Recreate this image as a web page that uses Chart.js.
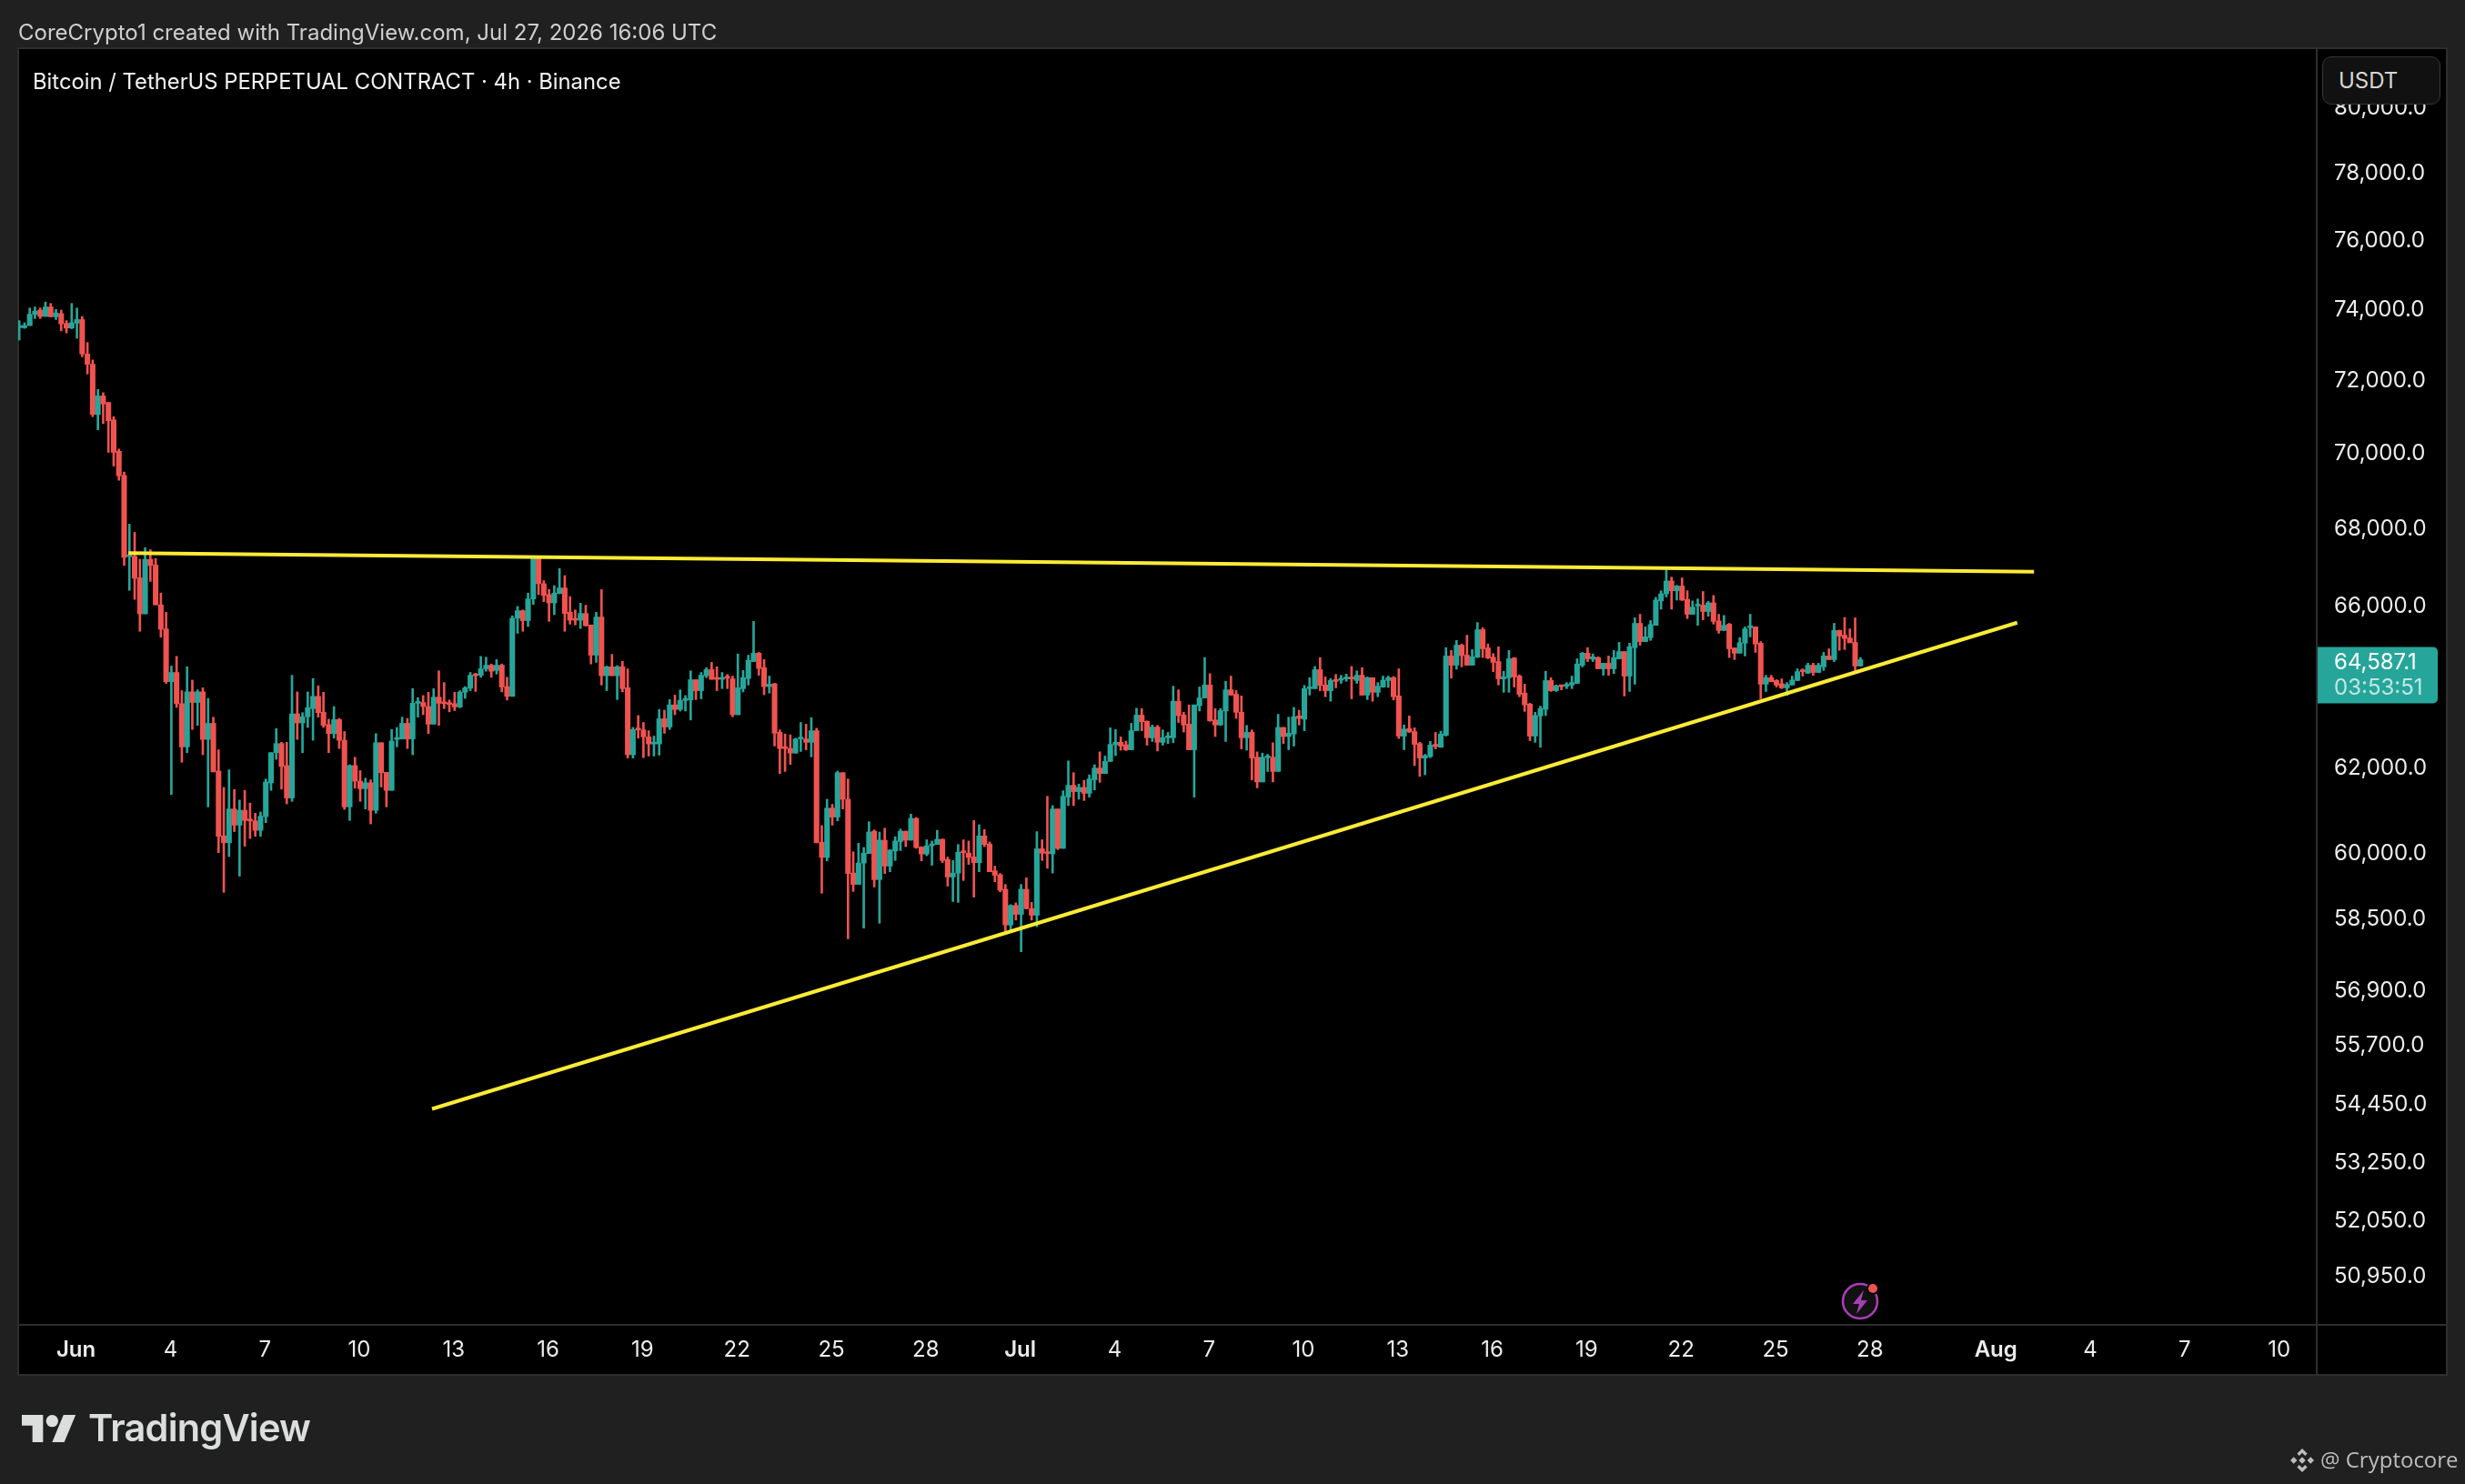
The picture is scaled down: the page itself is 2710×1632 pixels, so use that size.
<!DOCTYPE html>
<html>
<head>
<meta charset="utf-8">
<title>BTCUSDT 4h</title>
<script src="https://cdn.jsdelivr.net/npm/chart.js@4"></script>
<style>
html,body{margin:0;padding:0;background:#202020;width:2710px;height:1632px;overflow:hidden;font-family:Inter,"Noto Sans",sans-serif}
#wrap{position:relative;width:2710px;height:1632px}
canvas{position:absolute;left:0;top:0}
.txt{position:absolute;white-space:nowrap}
#credit{left:20px;top:21px;font-size:24px;line-height:30px;color:#cfcfcf}
#title{left:36px;top:75px;font-size:23.8px;line-height:30px;color:#f2f2f2}
#usdt{position:absolute;left:2553px;top:62px;width:128px;height:51px;background:#111;border:1px solid #363636;border-radius:10px;color:#d6d6d6;font-size:24px;line-height:51px;text-indent:17px}
#tvname{left:97px;top:1542px;font-size:41.5px;line-height:56px;font-weight:600;color:#dcdedd;letter-spacing:-.8px}
#handle{left:2551px;top:1589px;font-family:"Open Sans",sans-serif;font-size:24px;line-height:32px;color:#bdbdbd}
svg{position:absolute;overflow:visible}
</style>
</head>
<body>
<div id="wrap">
<canvas id="c" width="2710" height="1632"></canvas>
<div class="txt" id="credit">CoreCrypto1 created with TradingView.com, Jul 27, 2026 16:06 UTC</div>
<div class="txt" id="title">Bitcoin / TetherUS PERPETUAL CONTRACT · 4h · Binance</div>
<div id="usdt">USDT</div>
<svg style="left:24px;top:1549px" width="60" height="44" viewBox="0 0 36 26"><path fill="#dcdedd" d="M14 22H7V11H0V4h14v18zM28 22h-8l7.5-18h8L28 22z"/><circle fill="#dcdedd" cx="20" cy="8" r="4"/></svg>
<div class="txt" id="tvname">TradingView</div>
<svg style="left:2517px;top:1593px" width="28" height="26" viewBox="0 0 28 28"><g fill="#bdbdbd"><path d="M14 0l6 6-2.5 2.5L14 5l-3.5 3.5L8 6z"/><path d="M14 28l6-6-2.5-2.5L14 23l-3.5-3.5L8 22z"/><path d="M14 10l4 4-4 4-4-4z"/><path d="M4 10l4 4-4 4-4-4z"/><path d="M24 10l4 4-4 4-4-4z"/></g></svg>
<div class="txt" id="handle">@ Cryptocore</div>
<svg style="left:2024px;top:1410px" width="44" height="44" viewBox="0 0 44 44"><circle cx="21" cy="21" r="19" fill="#111" stroke="#a63fb5" stroke-width="2.6"/><path fill="#a63fb5" d="M25 9L13 24h7l-3 11 12-15h-7z"/><circle cx="35" cy="7" r="7" fill="#000"/><circle cx="35" cy="7" r="5" fill="#ef5350"/></svg>
</div>
<script>
const opens=[
73420,73420,73480,73800,73920,73740,74010,73730,73820,73540,
73410,73550,73650,72680,72390,71000,71510,71330,70850,70000,
69350,67210,67220,66660,65740,67140,66990,65970,65360,64040,
64270,63500,62450,63790,63530,63790,62630,63020,61870,60340,
60180,60970,60590,60940,60720,60690,60470,60790,61590,62310,
62530,62000,61230,63250,63030,63180,63380,63680,63290,62990,
62770,63110,62610,61020,62000,61630,61450,61590,60940,62550,
61840,61410,62630,62640,63020,62640,63510,63530,63430,63000,
63660,63530,63520,63500,63420,63780,63880,64220,64200,64360,
64450,64320,64450,63920,63680,65630,65820,65570,66120,67180,
66510,66230,66020,66260,66400,65780,65600,65580,65750,65460,
64700,65660,64190,64410,64190,64410,63890,62260,62880,62860,
62690,62520,62520,63130,62930,63470,63360,63580,63590,64090,
63820,64190,64340,64120,64100,64160,64110,63230,63870,64120,
64540,64750,64390,63920,63990,62800,62420,62410,62300,62640,
62640,62560,62840,60190,59840,60990,60780,61830,61200,59480,
59220,59710,59930,60450,59330,60240,59640,59990,60210,60450,
60240,60750,60080,59920,60110,60140,60260,59790,59390,59480,
59980,59940,59850,59720,60340,60150,59530,59440,59110,58300,
58740,58540,59110,58670,58520,60040,59950,59920,60970,60050,
61250,61530,61380,61480,61340,61660,61940,61810,62100,62500,
62560,62500,62380,62840,63220,63070,62670,62930,62560,62670,
62670,63560,63220,63000,62380,63450,63640,63960,63100,62980,
63320,63840,63730,63290,62670,62800,62200,61610,62190,62200,
61860,62920,62700,62760,63200,63120,63870,63870,64340,63960,
63820,64080,64080,64110,64130,64070,64200,63710,64140,63780,
63910,64070,64140,63690,62710,62890,62820,62530,62180,62220,
62510,62440,62730,64680,64450,64950,64700,64450,64650,65340,
64880,64650,64540,64110,64140,64630,64180,63760,63490,62710,
63200,63360,64070,63820,63940,63930,63960,64000,64450,64750,
64600,64640,64360,64500,64360,64610,64790,64180,64890,65500,
65040,65140,65450,66070,66250,66580,66330,66450,66110,65730,
65940,65960,65800,66020,65560,65320,65480,64880,64750,65000,
65390,65410,65000,63980,64140,64070,63990,63890,63960,64070,
64330,64250,64450,64270,64410,64680,64590,65320,65200,65130,
65020,64430];
const highs=[
73620,73560,73980,74010,73980,74150,74110,73940,73920,73620,
74110,73980,73740,73000,72510,71690,71600,71330,70940,70060,
69440,68060,67840,67140,67440,67390,67160,66270,65780,64430,
64670,63820,64410,64080,63840,63890,63630,63170,62380,61480,
61900,61430,61180,61410,61110,60870,60900,61680,62310,62890,
62560,62560,64200,63790,63280,63790,64120,63940,63780,63120,
63430,63140,62820,62020,62200,61880,61700,61660,62770,62550,
61840,62870,62920,63170,63140,63870,63650,63700,63780,63870,
64310,64020,63590,63780,63820,63920,64270,64250,64670,64650,
64480,64590,64480,64150,65690,65930,65840,66270,67220,67200,
66590,66360,66460,66900,66720,66180,65840,66010,65960,65460,
65780,66360,64430,64720,64440,64550,64360,62920,63210,63040,
62840,62710,63360,63340,63600,63710,63840,63700,64310,64090,
64270,64390,64520,64410,64270,64220,64180,64730,64320,64700,
65550,64770,64590,64180,64000,62860,62760,62740,62660,63040,
63000,63160,62900,60580,61200,61080,61870,61830,61680,59970,
60170,60070,60670,60480,60430,60520,60020,60320,60500,60450,
60850,60770,60090,60250,60220,60470,60270,59850,59770,60140,
60250,60220,60700,60600,60490,60200,59640,59470,59220,58760,
58800,59220,59370,58810,60440,60250,61270,61050,60970,61400,
62110,61830,61560,61650,61780,62020,62330,62230,62910,62870,
62690,62590,63020,63390,63380,63080,62980,62970,62860,62800,
63930,63840,63290,63470,63470,63910,64640,64240,63380,63380,
64050,64180,63820,63690,62970,62860,62330,62300,62270,62550,
63240,62920,63170,63410,63340,63950,64140,64420,64640,64160,
64120,64220,64200,64230,64420,64310,64390,64160,64140,64020,
64180,64180,64170,64360,62980,63200,62910,62560,62270,62580,
62800,62830,64890,64820,65070,64980,65200,64840,65520,65390,
64980,64740,64910,64300,64820,64640,64210,63980,63510,63290,
63440,64300,64140,63960,63960,64020,64180,64610,64770,64890,
64730,64660,64500,64680,64820,65020,64790,65000,65640,65730,
65410,65570,66160,66330,66860,66680,66470,66660,66330,66070,
66120,66310,66060,66210,65730,65700,65500,64880,65140,65410,
65730,65410,65040,64200,64200,64090,64110,64020,64180,64360,
64360,64500,64500,64500,64770,64860,65500,65330,65650,65360,
65640,64640];
const lows=[
73070,73400,73480,73680,73680,73740,73730,73650,73330,73270,
73390,73120,72600,72120,70940,70580,70750,69970,69600,69220,
66980,66340,66110,65300,65740,66570,65970,65150,64000,61310,
63410,62080,62310,62870,62970,62260,61020,61850,59950,59040,
59860,60440,59410,60100,60280,60330,60330,60650,61410,62150,
61440,61090,61150,62630,62310,62920,62610,63170,62920,62310,
62660,62410,60960,60700,61460,61150,60970,60620,60870,61490,
61020,61410,62450,62640,62410,62260,63170,63230,62770,63000,
62970,63380,63300,63330,63400,63630,63820,63800,64150,64300,
64150,64230,63790,63590,63680,65250,65300,65420,65980,66230,
66050,65550,65720,66250,65300,65480,65460,65370,65430,64480,
64520,63960,63820,64190,63600,63790,62180,62180,62660,62190,
62230,62230,62250,62780,62870,63230,63320,63320,63100,63600,
63620,64140,64100,63820,63870,63870,63180,63230,63790,63960,
64540,64200,63720,63760,62470,61810,61860,62030,62300,62340,
62380,62210,60180,59020,59760,60590,60690,60970,57990,59060,
59220,58230,59930,59160,58340,59470,59510,59770,60000,60090,
60240,60050,59760,59880,59660,60140,59720,59180,58830,58810,
59310,59680,58930,59510,60090,59510,59280,59050,58120,58170,
58410,57700,58660,58410,58260,59770,59590,59480,60020,60050,
61050,61050,61200,61170,61250,61420,61600,61810,62100,62240,
62370,62360,62380,62840,62840,62490,62580,62350,62490,62530,
62550,63040,62810,62380,61250,63320,63640,63070,62700,62970,
62580,63710,63140,62400,62370,61660,61470,61610,61860,61610,
61860,62530,62380,62470,62980,62840,63710,63870,63820,63670,
63560,63890,64000,64050,63620,64000,63710,63600,63560,63670,
63900,63900,63590,62650,62380,62800,62000,61740,61780,62190,
62400,62440,62710,64130,64350,64410,64450,64450,64640,64640,
64610,64290,63960,63780,63780,63910,63670,63310,62600,62560,
62440,63210,63800,63800,63840,63870,63870,64000,64410,64540,
64540,64360,64200,64200,64240,64610,63690,63800,63980,64950,
65040,65070,65450,65860,66170,65860,66090,66080,65620,65730,
65450,65590,65680,65480,65250,65320,64640,64590,64750,64680,
65160,64770,63620,63800,64040,63910,63870,63700,63960,64070,
64180,64250,64200,64270,64320,64590,64540,64820,64840,65010,
64320,64430];
const closes=[
73480,73480,73800,73890,73740,74010,73730,73840,73530,73410,
73560,73650,72680,72390,71000,71510,71290,70830,69970,69340,
67190,67250,66650,65740,67140,66980,65970,65350,64040,64270,
63500,62450,63790,63530,63790,62630,63020,61850,60330,60180,
60970,60590,60940,60700,60690,60470,60800,61610,62310,62530,
61980,61230,63250,63030,63180,63400,63680,63280,62970,62770,
63110,62610,61020,62000,61630,61450,61590,60940,62550,61830,
61410,62590,62660,63020,62640,63510,63550,63430,63000,63660,
63510,63500,63480,63420,63780,63890,64200,64190,64360,64450,
64300,64450,63910,63680,65630,65820,65570,66120,67190,66510,
66210,66020,66270,66400,65750,65580,65580,65750,65440,64700,
65660,64190,64410,64190,64410,63870,62260,62870,62860,62690,
62520,62540,63130,62930,63470,63360,63580,63620,64090,63820,
64200,64340,64100,64100,64130,64130,63230,63890,64140,64570,
64750,64370,63920,63980,62780,62410,62410,62300,62640,62660,
62560,62840,60180,59840,60990,60780,61830,61200,59470,59220,
59710,59940,60430,59330,60240,59640,60010,60220,60450,60240,
60750,60070,59920,60110,60150,60260,59770,59390,59480,59960,
59950,59840,59720,60340,60140,59510,59430,59090,58300,58740,
58540,59110,58670,58520,60040,59940,59930,60970,60050,61270,
61530,61380,61480,61340,61680,61940,61810,62100,62510,62560,
62470,62380,62840,63220,63060,62670,62930,62560,62670,62700,
63560,63210,62980,62380,63470,63640,63960,63080,62980,63330,
63840,63710,63290,62670,62800,62180,61610,62200,62230,61860,
62920,62700,62780,63180,63140,63870,63910,64340,63950,63820,
64070,64050,64110,64140,64110,64200,63710,64140,63780,63930,
64080,64140,63670,62710,62880,62810,62510,62180,62240,62490,
62460,62760,64680,64450,64950,64690,64450,64660,65340,64860,
64630,64520,64110,64160,64610,64160,63730,63470,62710,63210,
63380,64070,63820,63940,63920,63960,64020,64480,64750,64610,
64660,64360,64500,64360,64640,64790,64180,64910,65500,65040,
65160,65470,66090,66250,66580,66330,66450,66090,65730,65910,
65960,65800,66020,65550,65320,65450,64860,64750,65010,65360,
65420,64980,63980,64140,64040,63960,63890,63970,64080,64290,
64290,64450,64270,64450,64680,64590,65320,65180,65120,65010,
64430,64587.1];

const priceTicks=[80000,78000,76000,74000,72000,70000,68000,66000,62000,60000,58500,56900,55700,54450,53250,52050,50950];
const timeTickIndex=[11,29,47,65,83,101,119,137,155,173,191,209,227,245,263,281,299,317,335,353,377,395,413,431];
const timeTickLabels=['Jun','4','7','10','13','16','19','22','25','28','Jul','4','7','10','13','16','19','22','25','28','Aug','4','7','10'];
const resistance=[{x:20.8,y:67302},{x:384.1,y:66819}];
const support=[{x:78.7,y:54304},{x:380.9,y:65517}];
const countdown='03:53:51';

const UP='#26a69a',DOWN='#ef5350',LINE='#fdeb35',BORDER='#2e2e2e',TICK='#ececec';
const FONT='Inter,"Noto Sans",sans-serif';
const candleColors=closes.map((c,i)=>c>=opens[i]?UP:DOWN);
const fmtPrice=v=>Number(v).toLocaleString('en-US',{minimumFractionDigits:1,maximumFractionDigits:1});

// black pane, frame lines, last price tag
const frame={
  id:'frame',
  beforeDraw(chart){
    const {ctx,chartArea:a}=chart;
    ctx.save();
    ctx.fillStyle='#000';
    ctx.fillRect(a.left,a.top,2690-a.left,1512-a.top);
    ctx.strokeStyle=BORDER;ctx.lineWidth=2;
    ctx.strokeRect(a.left,a.top,2690-a.left,1512-a.top);
    ctx.beginPath();
    ctx.moveTo(a.right,a.top);ctx.lineTo(a.right,1512);
    ctx.moveTo(a.left,a.bottom);ctx.lineTo(2690,a.bottom);
    ctx.stroke();
    ctx.restore();
  },
  afterDraw(chart){
    const {ctx,chartArea:a,scales}=chart;
    const last=closes[closes.length-1];
    const y=scales.y.getPixelForValue(last);
    ctx.save();
    ctx.fillStyle=UP;
    ctx.beginPath();
    ctx.roundRect(a.right+1,y-14,132,62,[0,5,5,0]);
    ctx.fill();
    ctx.font='24px '+FONT;ctx.textAlign='left';ctx.textBaseline='middle';
    ctx.fillStyle='#fff';ctx.fillText(fmtPrice(last),a.right+19,y+3);
    ctx.fillStyle='rgba(255,255,255,.72)';ctx.fillText(countdown,a.right+19,y+31);
    ctx.restore();
  }
};

new Chart(document.getElementById('c'),{
  type:'bar',
  data:{datasets:[
    {type:'line',data:resistance,borderColor:LINE,borderWidth:4,pointRadius:0,order:0},
    {type:'line',data:support,borderColor:LINE,borderWidth:4,pointRadius:0,order:0},
    {data:opens.map((o,i)=>({x:i,y:[o,closes[i]]})),backgroundColor:candleColors,barThickness:5.4,minBarLength:2,grouped:false,order:1},
    {data:lows.map((l,i)=>({x:i,y:[l,highs[i]]})),backgroundColor:candleColors,barThickness:2,grouped:false,order:2}
  ]},
  options:{
    responsive:false,animation:false,devicePixelRatio:1,
    layout:{padding:{left:20,top:53,right:20,bottom:120}},
    plugins:{legend:{display:false},tooltip:{enabled:false}},
    scales:{
      x:{
        type:'linear',min:-0.2,max:438,bounds:'data',offset:false,
        grid:{display:false,drawTicks:false},border:{display:false},
        afterBuildTicks(s){s.ticks=timeTickIndex.map(v=>({value:v}));},
        afterFit(s){s.height=55;},
        ticks:{
          autoSkip:false,maxRotation:0,padding:13,labelOffset:-1,color:TICK,
          font:c=>({family:FONT,size:24,weight:c.tick&&/^[A-Z]/.test(c.tick.label||'')?'600':'400'}),
          callback:v=>timeTickLabels[timeTickIndex.indexOf(v)]
        }
      },
      y:{
        type:'logarithmic',position:'right',min:49960,max:81785,bounds:'data',beginAtZero:false,
        grid:{display:false,drawTicks:false},border:{display:false},
        afterBuildTicks(s){s.ticks=priceTicks.map(v=>({value:v}));},
        afterFit(s){s.width=143;},
        ticks:{autoSkip:false,padding:19,labelOffset:3,crossAlign:'near',color:TICK,font:{family:FONT,size:24},callback:fmtPrice}
      }
    }
  },
  plugins:[frame]
});
</script>
</body>
</html>
